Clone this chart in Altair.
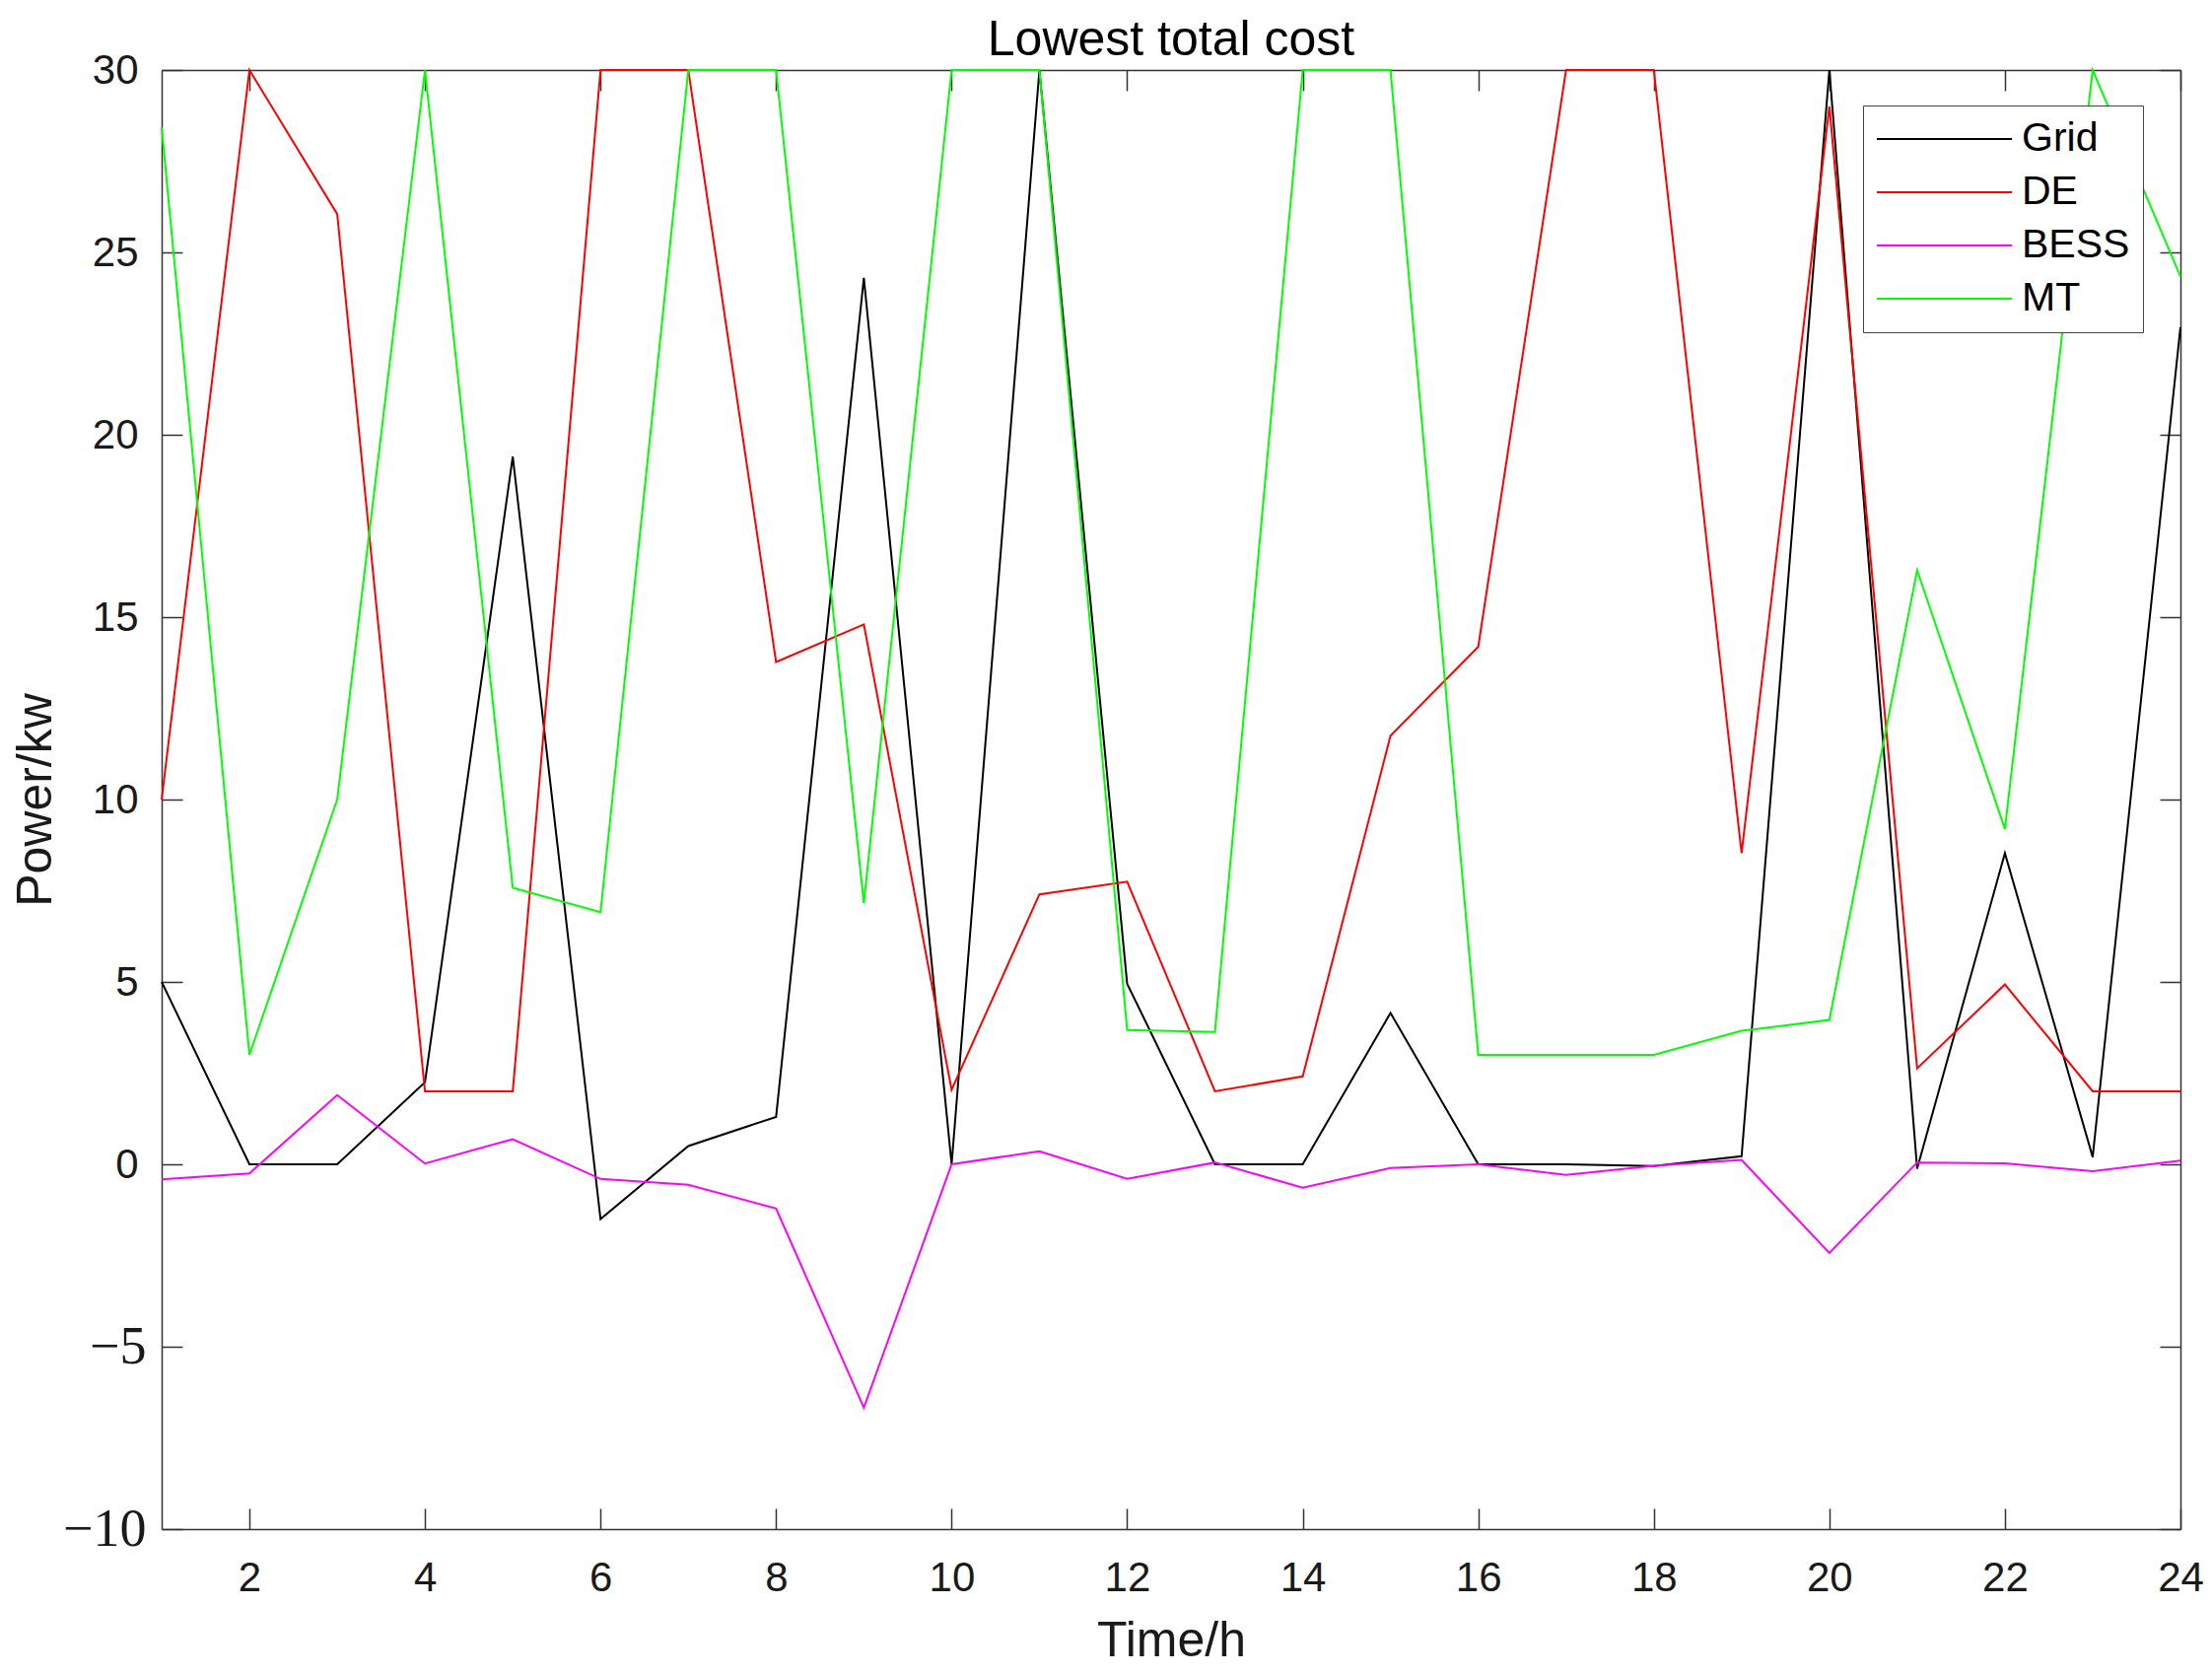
import altair as alt
import pandas as pd

hours = list(range(1, 25))
series_names = ["Grid", "DE", "BESS", "MT"]
series_colors = ["#000000", "#FF0000", "#FF00FF", "#00FF00"]

grid = [5.0, 0, 0, 2.25, 19.4, -1.5, 0.5, 1.3, 24.3, 0, 30, 4.95,
        0, 0, 4.15, 0, 0, -0.05, 0.22, 30, -0.12, 8.53, 0.2, 22.95]
de = [10.0, 30, 26.05, 2, 2, 30, 30, 13.77, 14.8, 2.04, 7.4, 7.75,
      2, 2.41, 11.75, 14.19, 30, 30, 8.53, 29.0, 2.63, 4.93, 2, 2]
bess = [-0.41, -0.25, 1.9, 0.02, 0.69, -0.4, -0.56, -1.21, -6.67, 0, 0.36, -0.4,
        0.05, -0.64, -0.1, 0, -0.29, -0.04, 0.12, -2.43, 0.05, 0.03, -0.19, 0.1]
mt = [28.43, 3.0, 10.0, 30, 7.58, 6.91, 30, 30, 7.16, 30, 30, 3.68,
      3.63, 30, 30, 3.0, 3.0, 3.0, 3.66, 3.96, 16.29, 9.19, 30, 24.34]

x_ticks = [2, 4, 6, 8, 10, 12, 14, 16, 18, 20, 22, 24]
y_ticks = [-10, -5, 0, 5, 10, 15, 20, 25, 30]

rows = []
for name, vals in zip(series_names, [grid, de, bess, mt]):
    for h, v in zip(hours, vals):
        rows.append({"t": h, "v": v, "s": name})
df = pd.DataFrame(rows)

W, H = 2048, 1480
SANS = "Liberation Sans"
SERIF = "Liberation Serif"
AX = "#333333"
TICK = 21

xscale = alt.Scale(domain=[1, 24], nice=False, zero=False)
yscale = alt.Scale(domain=[-10, 30], nice=False, zero=False)

common_axis = dict(
    domainColor=AX, domainWidth=1.5, ticks=False,
    grid=True, gridColor=AX, gridWidth=1.5, gridDash=[TICK, 4000], gridOpacity=1,
)

x_bottom = alt.Axis(
    values=x_ticks, format="d", title="Time/h",
    labelFont=SANS, labelFontSize=42, labelColor="#1a1a1a", labelPadding=29,
    labelFlush=False, labelOverlap=False,
    titleFont=SANS, titleFontSize=50, titleFontWeight="normal", titleColor="#1a1a1a",
    titleY=113, titleBaseline="middle",
    **common_axis,
)
y_left = alt.Axis(
    values=y_ticks, format="d", title="Power/kw",
    labelFont={"condition": {"test": "datum.value < 0", "value": SERIF}, "value": SANS},
    labelFontSize={"condition": {"test": "datum.value < 0", "value": 54}, "value": 42},
    labelPadding={"condition": {"test": "datum.value < 0", "value": 16}, "value": 24},
    labelColor="#1a1a1a", labelFlush=False, labelOverlap=False,
    titleFont=SANS, titleFontSize=50, titleFontWeight="normal", titleColor="#1a1a1a",
    titleX=-128, titleY=H / 2, titleAngle=270, titleBaseline="middle", titleAlign="center",
    **common_axis,
)
x_top = alt.Axis(orient="top", values=x_ticks, labels=False, title=None, **common_axis)
y_right = alt.Axis(orient="right", values=y_ticks, labels=False, title=None, **common_axis)

legend = alt.Legend(
    orient="none", legendX=1726, legendY=36, title=None,
    symbolType="stroke", symbolSize=137 ** 2, symbolStrokeWidth=2,
    labelFont=SANS, labelFontSize=41, labelColor="#000000", labelOffset=9,
    padding=13, clipHeight=42, rowPadding=12,
    strokeColor="#444444", fillColor="#ffffff", cornerRadius=0,
)

lines = alt.Chart(df).mark_line(strokeWidth=2).encode(
    x=alt.X("t:Q", scale=xscale, axis=x_bottom),
    y=alt.Y("v:Q", scale=yscale, axis=y_left),
    color=alt.Color("s:N", scale=alt.Scale(domain=series_names, range=series_colors),
                    sort=series_names, legend=legend),
    detail="s:N",
)

frame = alt.Chart(df).mark_line(opacity=0).encode(
    x=alt.X("t:Q", scale=xscale, axis=x_top),
    y=alt.Y("v:Q", scale=yscale, axis=y_right),
    detail="s:N",
)

chart = alt.layer(lines, frame).resolve_axis(x="independent", y="independent").properties(
    width=W, height=H,
    title=alt.TitleParams("Lowest total cost", font=SANS, fontSize=50, fontWeight="normal",
                          color="#000000", anchor="middle", offset=14, dy=30),
    autosize=alt.AutoSizeParams(type="none"),
    padding={"left": 156, "top": 63, "right": 24, "bottom": 138},
).configure_view(stroke=None).configure(background="white")

chart.save("out.html", embed_options={"renderer": "svg", "actions": False})
